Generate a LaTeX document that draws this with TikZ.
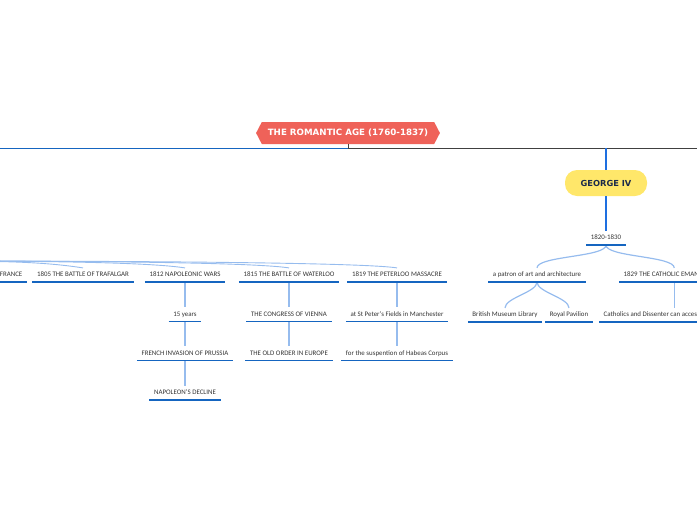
\documentclass[tikz,border=0pt]{standalone}
\usepackage{fontspec}
\setmainfont{Carlito}
\newfontfamily\titlefont{DejaVu Sans}
\usepackage{tikz}
\usetikzlibrary{shapes.symbols, positioning, calc}

\definecolor{titlered}{RGB}{239,98,89}
\definecolor{kingyellow}{RGB}{255,231,106}
\definecolor{kingtext}{RGB}{27,42,74}
\definecolor{ulblue}{RGB}{21,101,192}
\definecolor{linkblue}{RGB}{150,188,238}
\definecolor{mainblue}{RGB}{30,111,224}
\definecolor{axisgray}{RGB}{64,64,64}

\begin{document}
\begin{tikzpicture}[
    x=1pt, y=-1pt,
    font=\fontsize{6.9}{8}\selectfont,
    node distance=25pt,
    % Styles
    maintopic/.style={signal, signal to=west and east, signal pointer angle=125, fill=titlered, text=white, font=\titlefont\bfseries\fontsize{8.7}{9}\selectfont, minimum height=22pt, inner xsep=6pt},
    king/.style={rectangle, rounded corners=12pt, fill=kingyellow, text=kingtext, font=\titlefont\bfseries\fontsize{8.3}{10}\selectfont, minimum width=82pt, minimum height=26pt},
    topic/.style={rectangle, text=black!80, inner xsep=4.5pt, inner ysep=3.5pt, text height=5.2pt, text depth=1.6pt},
    uline/.style={draw=ulblue, line width=1.6pt},
    link/.style={draw=linkblue, line width=1.2pt},
    thinlink/.style={draw=linkblue, line width=0.9pt},
    mainlink/.style={draw=mainblue, line width=2pt},
    axis/.style={line width=0.9pt}
]
\path[use as bounding box] (0,0) rectangle (697,520);
\clip (0,0) rectangle (697,520);

% ------------------- CENTRAL TOPIC -------------------
\node[maintopic] (title) at (348,133) {THE ROMANTIC AGE (1760-1837)};
\coordinate (axisL) at (0,148);
\coordinate (axisM) at (348,148);
\coordinate (axisR) at (697,148);

\draw[axis, draw=ulblue] (axisL) -- (axisM);
\draw[axis, draw=axisgray] (axisM) -- (axisR);
\draw[axis, draw=axisgray] (title.south) -- (axisM);

% ------------------- NAPOLEONIC YEARS -------------------
\node[topic, anchor=east] (france) at (27,275) {FRANCE};
\node[topic] (trafalgar) at (83,275) {1805 THE BATTLE OF TRAFALGAR};
\node[topic] (napwars) at (185,275) {1812 NAPOLEONIC WARS};
\node[topic] (waterloo) at (289,275) {1815 THE BATTLE OF WATERLOO};
\node[topic] (peterloo) at (397,275) {1819 THE PETERLOO MASSACRE};

\node[topic, below=of napwars] (years) {15 years};
\node[topic, below=of years] (prussia) {FRENCH INVASION OF PRUSSIA};
\node[topic, below=of prussia] (decline) {NAPOLEON'S DECLINE};
\node[topic, below=of waterloo] (vienna) {THE CONGRESS OF VIENNA};
\node[topic, below=of vienna] (oldorder) {THE OLD ORDER IN EUROPE};
\node[topic, below=of peterloo] (fields) {at St Peter's Fields in Manchester};
\node[topic, below=of fields] (habeas) {for the suspention of Habeas Corpus};

\coordinate (leftroot) at (-90,261);
\foreach \n in {trafalgar, napwars, waterloo, peterloo}
  \draw[thinlink] (leftroot) .. controls +(80,0) and +(-45,-7) .. (\n.north);

\draw[link] (napwars.south) -- (years.north);
\draw[link] (years.south) -- (prussia.north);
\draw[link] (prussia.south) -- (decline.north);
\draw[link] (waterloo.south) -- (vienna.north);
\draw[link] (vienna.south) -- (oldorder.north);
\draw[link] (peterloo.south) -- (fields.north);
\draw[link] (fields.south) -- (habeas.north);

% ------------------- GEORGE IV -------------------
\coordinate (kingroot) at (606,148);
\node[king] (george) at (606,183) {GEORGE IV};
\node[topic] (reign) at (606,238) {1820-1830};
\node[topic] (patron) at (537,275) {a patron of art and architecture};
\node[topic, anchor=west] (emancip) at (619,275) {1829 THE CATHOLIC EMANCIPATION};
\node[topic] (museum) at (505,315) {British Museum Library};
\node[topic] (pavilion) at (569,315) {Royal Pavilion};
\node[topic, anchor=west] (dissent) at (599,315) {Catholics and Dissenter can access};

\draw[mainlink] (kingroot) -- (george.north);
\draw[mainlink] (george.south) -- (reign.north);
\draw[link] (reign.south) .. controls +(0,12) and +(0,-12) .. (patron.north);
\draw[link] (reign.south) .. controls +(0,12) and +(0,-12) .. (emancip.north);
\draw[link] (patron.south) .. controls +(0,10) and +(0,-10) .. (museum.north);
\draw[link] (patron.south) .. controls +(0,10) and +(0,-10) .. (pavilion.north);
\draw[link] (emancip.south) -- (emancip.south |- dissent.north);

% Underlines
\foreach \n in {france, trafalgar, napwars, waterloo, peterloo, years, prussia, decline, vienna, oldorder, fields, habeas, reign, patron, emancip, museum, pavilion, dissent}
  \draw[uline] (\n.south west) -- (\n.south east);

\end{tikzpicture}
\end{document}
